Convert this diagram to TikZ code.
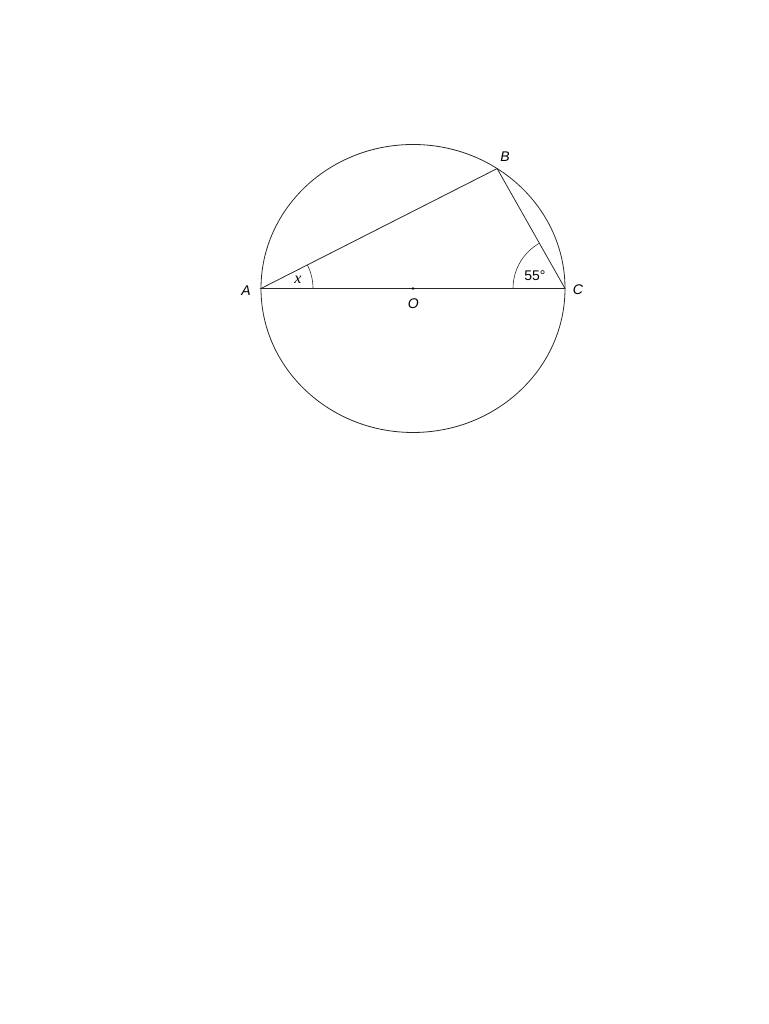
\documentclass[tikz,border=0pt]{standalone}
\usepackage{fontspec}
\setmainfont{Liberation Sans}
\newfontfamily\serifx{Liberation Serif}
\usetikzlibrary{calc}
\begin{document}
\begin{tikzpicture}[x=1pt,y=1pt,
  geo/.style={line width=0.8pt,black!85},
  lbl/.style={font=\fontsize{14}{16}\selectfont\itshape,inner sep=0pt}]
\useasboundingbox (0,0) rectangle (768,1024);
\coordinate (O) at (413,735.5);
\coordinate (A) at (261,735.5);
\coordinate (C) at (565,735.5);
\coordinate (B) at ($(O)+({152*cos(56.4)},{144*sin(56.4)})$);
\draw[geo] (O) ellipse [x radius=152, y radius=144];
\draw[geo] (A) -- (B) -- (C) -- cycle;
\fill (O) circle (1.3);
% angle arcs
\draw[geo,line width=0.6pt] ($(A)+(52,0)$) arc [start angle=0, end angle=26.96, radius=52];
\draw[geo,line width=0.6pt] ($(C)+(-52,0)$) arc [start angle=180, end angle=119.6, radius=52];
% labels
\node[lbl] (lA) at (246,733.5) {A};
\node[lbl] (lC) at (578,734) {C};
\node[lbl] (lB) at (505,867) {B};
\node[lbl] (lO) at (413.3,720) {O};
\node[inner sep=0pt,font=\fontsize{16}{18}\selectfont\serifx\itshape] (lx) at (298,744) {x};
\node[inner sep=0pt,font=\fontsize{14}{16}\selectfont] (l55) at (535,748.5) {55°};
\end{tikzpicture}
\end{document}
